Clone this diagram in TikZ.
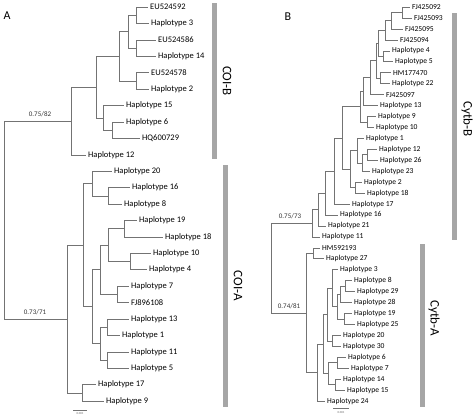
\documentclass[tikz,border=0pt]{standalone}
\usepackage{fontspec}
\setmainfont{Carlito}

\begin{document}
\begin{tikzpicture}[x=1pt,y=-1pt,
    every edge/.style={draw=black!55,line width=.6pt,to path={|- (\tikztotarget)}},
    leafA/.style={anchor=west,inner sep=2pt,font=\fontsize{8.5}{9}\selectfont},
    leafB/.style={anchor=west,inner sep=2pt,font=\fontsize{7.6}{8}\selectfont},
    supp/.style={anchor=south,font=\fontsize{7}{8}\selectfont,text=black!80},
    bar/.style={fill=black!35},
    clade/.style={rotate=-90,font=\fontsize{13}{14}\selectfont},
    panel/.style={font=\fontsize{12}{12}\selectfont},
    scl/.style={font=\fontsize{3}{3}\selectfont,inner sep=0pt,text=black!60}]
  \useasboundingbox (0,0) rectangle (474,416);
  % panel A: COI
  \node[panel] (pA) at (7,16) {A};
  \node[leafA] (eu592) at (148,7) {EU524592};
  \node[leafA] (hA3) at (149,23.4) {Haplotype 3};
  \node[leafA] (eu586) at (156,39.8) {EU524586};
  \node[leafA] (hA14) at (156,56.3) {Haplotype 14};
  \node[leafA] (eu578) at (149,72.7) {EU524578};
  \node[leafA] (hA2) at (149,89.1) {Haplotype 2};
  \node[leafA] (hA15) at (124,105.5) {Haplotype 15};
  \node[leafA] (hA6) at (124,121.9) {Haplotype 6};
  \node[leafA] (hq729) at (140,138.3) {HQ600729};
  \node[leafA] (hA12) at (86,154.8) {Haplotype 12};
  \node[leafA] (hA20) at (112,171.2) {Haplotype 20};
  \node[leafA] (hA16) at (130,187.6) {Haplotype 16};
  \node[leafA] (hA8) at (122,204) {Haplotype 8};
  \node[leafA] (hA19) at (137,220.4) {Haplotype 19};
  \node[leafA] (hA18) at (163,236.8) {Haplotype 18};
  \node[leafA] (hA10) at (151,253.3) {Haplotype 10};
  \node[leafA] (hA4) at (147,269.7) {Haplotype 4};
  \node[leafA] (hA7) at (129,286.1) {Haplotype 7};
  \node[leafA] (fj108) at (129,302.5) {FJ896108};
  \node[leafA] (hA13) at (129,318.9) {Haplotype 13};
  \node[leafA] (hA1) at (120,335.3) {Haplotype 1};
  \node[leafA] (hA11) at (129,351.8) {Haplotype 11};
  \node[leafA] (hA5) at (129,368.2) {Haplotype 5};
  \node[leafA] (hA17) at (96,384.6) {Haplotype 17};
  \node[leafA] (hA9) at (104,401) {Haplotype 9};
  \coordinate (a1) at (136,15.2);
  \coordinate (a2) at (136,48);
  \coordinate (a3) at (128,31.6);
  \coordinate (a4) at (136,81);
  \coordinate (a5) at (119,56.3);
  \coordinate (a6) at (112,130);
  \coordinate (a7) at (103,117.8);
  \coordinate (a8) at (96,87);
  \coordinate (coib) at (71,121);
  \coordinate (b1) at (108,195.8);
  \coordinate (b2) at (92,183.5);
  \coordinate (b3) at (124,228.6);
  \coordinate (b4) at (130,261.5);
  \coordinate (b5) at (108,245);
  \coordinate (b6) at (117,294.3);
  \coordinate (b7) at (100,269.7);
  \coordinate (b8) at (107,327.1);
  \coordinate (b9) at (107,360);
  \coordinate (b10) at (100,343.5);
  \coordinate (b11) at (92,306.6);
  \coordinate (b12) at (83,245);
  \coordinate (b13) at (82,392.8);
  \coordinate (coia) at (67,319);
  \coordinate (rootA) at (4,220);
  \path
    (a1) edge (eu592) edge (hA3)
    (a2) edge (eu586) edge (hA14)
    (a3) edge (a1) edge (a2)
    (a4) edge (eu578) edge (hA2)
    (a5) edge (a3) edge (a4)
    (a6) edge (hA6) edge (hq729)
    (a7) edge (hA15) edge (a6)
    (a8) edge (a5) edge (a7)
    (coib) edge (a8) edge (hA12)
    (b1) edge (hA16) edge (hA8)
    (b2) edge (hA20) edge (b1)
    (b3) edge (hA19) edge (hA18)
    (b4) edge (hA10) edge (hA4)
    (b5) edge (b3) edge (b4)
    (b6) edge (hA7) edge (fj108)
    (b7) edge (b5) edge (b6)
    (b8) edge (hA13) edge (hA1)
    (b9) edge (hA11) edge (hA5)
    (b10) edge (b8) edge (b9)
    (b11) edge (b7) edge (b10)
    (b12) edge (b2) edge (b11)
    (b13) edge (hA17) edge (hA9)
    (coia) edge (b12) edge (b13)
    (rootA) edge (coib) edge (coia);
  \node[supp] (sA1) at (40,120) {0.75/82};
  \node[supp] (sA2) at (35,318) {0.73/71};
  \fill[bar] (212,3) rectangle (217,159);
  \fill[bar] (222.5,165) rectangle (227.5,407);
  \node[clade] (lCOIB) at (227,81) {COI-B};
  \node[clade] (lCOIA) at (238,286) {COI-A};
  \coordinate (sbA1) at (73,410);
  \coordinate (sbA2) at (87,410);
  \draw[black!55,line width=.6pt] (sbA1) -- (sbA2);
  \node[scl] (sbAt) at (80,414) {0.001};
  % panel B: Cytb
  \node[panel] (pB) at (288,17) {B};
  \node[leafB] (fj092) at (410,7.0) {FJ425092};
  \node[leafB] (fj093) at (412,17.9) {FJ425093};
  \node[leafB] (fj095) at (403,28.9) {FJ425095};
  \node[leafB] (fj094) at (398,39.8) {FJ425094};
  \node[leafB] (hB4) at (390,50.8) {Haplotype 4};
  \node[leafB] (hB5) at (393,61.7) {Haplotype 5};
  \node[leafB] (hm470) at (391,72.7) {HM177470};
  \node[leafB] (hB22) at (390,83.6) {Haplotype 22};
  \node[leafB] (fj097) at (384,94.6) {FJ425097};
  \node[leafB] (hB13) at (378,105.5) {Haplotype 13};
  \node[leafB] (hB9) at (376,116.4) {Haplotype 9};
  \node[leafB] (hB10) at (374,127.4) {Haplotype 10};
  \node[leafB] (hB1) at (364,138.3) {Haplotype 1};
  \node[leafB] (hB12) at (377,149.3) {Haplotype 12};
  \node[leafB] (hB26) at (378,160.2) {Haplotype 26};
  \node[leafB] (hB23) at (370,171.2) {Haplotype 23};
  \node[leafB] (hB2) at (362,182.1) {Haplotype 2};
  \node[leafB] (hB18) at (365,193.0) {Haplotype 18};
  \node[leafB] (hB17) at (350,204.0) {Haplotype 17};
  \node[leafB] (hB16) at (338,214.9) {Haplotype 16};
  \node[leafB] (hB21) at (326,225.9) {Haplotype 21};
  \node[leafB] (hB11) at (320,236.8) {Haplotype 11};
  \node[leafB] (hm193) at (320,247.8) {HM592193};
  \node[leafB] (hB27) at (324,258.7) {Haplotype 27};
  \node[leafB] (hB3) at (338,269.7) {Haplotype 3};
  \node[leafB] (hB8) at (352,280.6) {Haplotype 8};
  \node[leafB] (hB29) at (355,291.5) {Haplotype 29};
  \node[leafB] (hB28) at (352,302.5) {Haplotype 28};
  \node[leafB] (hB19) at (352,313.4) {Haplotype 19};
  \node[leafB] (hB25) at (355,324.4) {Haplotype 25};
  \node[leafB] (hB20) at (341,335.3) {Haplotype 20};
  \node[leafB] (hB30) at (341,346.3) {Haplotype 30};
  \node[leafB] (hB6) at (346,357.2) {Haplotype 6};
  \node[leafB] (hB7) at (349,368.2) {Haplotype 7};
  \node[leafB] (hB14) at (341,379.1) {Haplotype 14};
  \node[leafB] (hB15) at (345,390.1) {Haplotype 15};
  \node[leafB] (hB24) at (325,401.0) {Haplotype 24};
  \coordinate (c1) at (402,12.45);
  \coordinate (c2) at (391,20.7);
  \coordinate (c3) at (385,30.25);
  \coordinate (c4) at (383,56.25);
  \coordinate (c5) at (378,43.25);
  \coordinate (c6) at (380,78.15);
  \coordinate (c7) at (376,60.7);
  \coordinate (c8) at (370,77.65);
  \coordinate (c9) at (363,91.6);
  \coordinate (c10) at (367,121.9);
  \coordinate (c11) at (360,106.75);
  \coordinate (d1) at (367,154.75);
  \coordinate (d2) at (362,163);
  \coordinate (d3) at (357,150.65);
  \coordinate (d4) at (355,187.55);
  \coordinate (d5) at (350,169.1);
  \coordinate (e1) at (342,137.9);
  \coordinate (e2) at (334,170.95);
  \coordinate (e3) at (325,192.9);
  \coordinate (e4) at (318,209.4);
  \coordinate (cytbb) at (312,223.1);
  \coordinate (f1) at (313,253.25);
  \coordinate (f2) at (345,286.05);
  \coordinate (f3) at (340,294.3);
  \coordinate (f4) at (344,318.9);
  \coordinate (f5) at (337,306.6);
  \coordinate (f6) at (332,288.15);
  \coordinate (f7) at (332,340.8);
  \coordinate (f8) at (327,314.5);
  \coordinate (f9) at (337,362.7);
  \coordinate (f10) at (335,384.6);
  \coordinate (f11) at (328,373.65);
  \coordinate (f12) at (323,344.1);
  \coordinate (f13) at (317,372.55);
  \coordinate (cytba) at (306,312.9);
  \coordinate (rootB) at (271,268);
  \path
    (c1) edge (fj092) edge (fj093)
    (c2) edge (c1) edge (fj095)
    (c3) edge (c2) edge (fj094)
    (c4) edge (hB4) edge (hB5)
    (c5) edge (c3) edge (c4)
    (c6) edge (hm470) edge (hB22)
    (c7) edge (c5) edge (c6)
    (c8) edge (c7) edge (fj097)
    (c9) edge (c8) edge (hB13)
    (c10) edge (hB9) edge (hB10)
    (c11) edge (c9) edge (c10)
    (d1) edge (hB12) edge (hB26)
    (d2) edge (d1) edge (hB23)
    (d3) edge (hB1) edge (d2)
    (d4) edge (hB2) edge (hB18)
    (d5) edge (d3) edge (d4)
    (e1) edge (c11) edge (d5)
    (e2) edge (e1) edge (hB17)
    (e3) edge (e2) edge (hB16)
    (e4) edge (e3) edge (hB21)
    (cytbb) edge (e4) edge (hB11)
    (f1) edge (hm193) edge (hB27)
    (f2) edge (hB8) edge (hB29)
    (f3) edge (f2) edge (hB28)
    (f4) edge (hB19) edge (hB25)
    (f5) edge (f3) edge (f4)
    (f6) edge (hB3) edge (f5)
    (f7) edge (hB20) edge (hB30)
    (f8) edge (f6) edge (f7)
    (f9) edge (hB6) edge (hB7)
    (f10) edge (hB14) edge (hB15)
    (f11) edge (f9) edge (f10)
    (f12) edge (f8) edge (f11)
    (f13) edge (f12) edge (hB24)
    (cytba) edge (f1) edge (f13)
    (rootB) edge (cytbb) edge (cytba);
  \node[supp] (sB1) at (290,222) {0.75/73};
  \node[supp] (sB2) at (289,312) {0.74/81};
  \fill[bar] (452,13) rectangle (457,240);
  \fill[bar] (419.5,244) rectangle (424.5,407);
  \node[clade] (lCytbB) at (467,119) {Cytb-B};
  \node[clade] (lCytbA) at (434,318) {Cytb-A};
  \coordinate (sbB1) at (333,408);
  \coordinate (sbB2) at (349,408);
  \draw[black!55,line width=.6pt] (sbB1) -- (sbB2);
  \node[scl] (sbBt) at (341,413) {0.001};
\end{tikzpicture}
\end{document}
